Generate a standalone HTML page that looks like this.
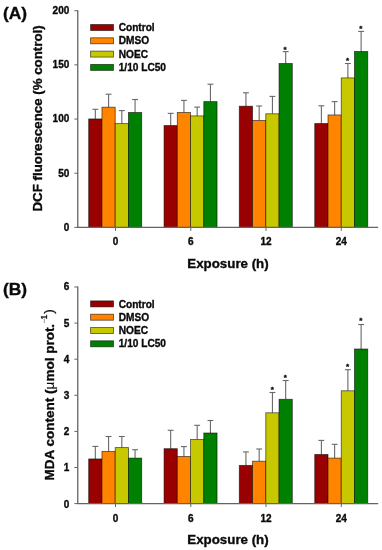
<!DOCTYPE html>
<html><head><meta charset="utf-8"><title>Figure</title>
<style>
html,body{margin:0;padding:0;background:#fff;}
svg{display:block;font-family:"Liberation Sans",Arial,sans-serif;font-weight:bold;fill:#0a0a0a;}
text{stroke:#0a0a0a;stroke-width:0.35px;stroke-linejoin:round;}
</style></head><body>
<svg width="382" height="550" viewBox="0 0 382 550">
<rect width="382" height="550" fill="#fff"/>
<line x1="95.33" y1="118.95" x2="95.33" y2="109.30" stroke="#686868" stroke-width="1.1"/>
<line x1="92.38" y1="109.30" x2="98.28" y2="109.30" stroke="#686868" stroke-width="1.1"/>
<rect x="88.70" y="118.95" width="13.25" height="108.45" fill="#990000" stroke="#000" stroke-opacity="0.62" stroke-width="0.85"/>
<line x1="108.58" y1="107.20" x2="108.58" y2="94.20" stroke="#686868" stroke-width="1.1"/>
<line x1="105.62" y1="94.20" x2="111.53" y2="94.20" stroke="#686868" stroke-width="1.1"/>
<rect x="101.95" y="107.20" width="13.25" height="120.20" fill="#FF8400" stroke="#000" stroke-opacity="0.62" stroke-width="0.85"/>
<line x1="121.83" y1="123.60" x2="121.83" y2="110.60" stroke="#686868" stroke-width="1.1"/>
<line x1="118.88" y1="110.60" x2="124.78" y2="110.60" stroke="#686868" stroke-width="1.1"/>
<rect x="115.20" y="123.60" width="13.25" height="103.80" fill="#C8C800" stroke="#000" stroke-opacity="0.62" stroke-width="0.85"/>
<line x1="135.07" y1="112.50" x2="135.07" y2="99.50" stroke="#686868" stroke-width="1.1"/>
<line x1="132.12" y1="99.50" x2="138.02" y2="99.50" stroke="#686868" stroke-width="1.1"/>
<rect x="128.45" y="112.50" width="13.25" height="114.90" fill="#008000" stroke="#000" stroke-opacity="0.62" stroke-width="0.85"/>
<line x1="170.68" y1="125.50" x2="170.68" y2="113.35" stroke="#686868" stroke-width="1.1"/>
<line x1="167.73" y1="113.35" x2="173.62" y2="113.35" stroke="#686868" stroke-width="1.1"/>
<rect x="164.05" y="125.50" width="13.25" height="101.90" fill="#990000" stroke="#000" stroke-opacity="0.62" stroke-width="0.85"/>
<line x1="183.93" y1="112.50" x2="183.93" y2="100.40" stroke="#686868" stroke-width="1.1"/>
<line x1="180.98" y1="100.40" x2="186.88" y2="100.40" stroke="#686868" stroke-width="1.1"/>
<rect x="177.30" y="112.50" width="13.25" height="114.90" fill="#FF8400" stroke="#000" stroke-opacity="0.62" stroke-width="0.85"/>
<line x1="197.18" y1="115.90" x2="197.18" y2="107.10" stroke="#686868" stroke-width="1.1"/>
<line x1="194.23" y1="107.10" x2="200.12" y2="107.10" stroke="#686868" stroke-width="1.1"/>
<rect x="190.55" y="115.90" width="13.25" height="111.50" fill="#C8C800" stroke="#000" stroke-opacity="0.62" stroke-width="0.85"/>
<line x1="210.43" y1="101.60" x2="210.43" y2="84.20" stroke="#686868" stroke-width="1.1"/>
<line x1="207.48" y1="84.20" x2="213.38" y2="84.20" stroke="#686868" stroke-width="1.1"/>
<rect x="203.80" y="101.60" width="13.25" height="125.80" fill="#008000" stroke="#000" stroke-opacity="0.62" stroke-width="0.85"/>
<line x1="245.93" y1="106.20" x2="245.93" y2="92.80" stroke="#686868" stroke-width="1.1"/>
<line x1="242.98" y1="92.80" x2="248.88" y2="92.80" stroke="#686868" stroke-width="1.1"/>
<rect x="239.30" y="106.20" width="13.25" height="121.20" fill="#990000" stroke="#000" stroke-opacity="0.62" stroke-width="0.85"/>
<line x1="259.18" y1="120.50" x2="259.18" y2="106.00" stroke="#686868" stroke-width="1.1"/>
<line x1="256.23" y1="106.00" x2="262.12" y2="106.00" stroke="#686868" stroke-width="1.1"/>
<rect x="252.55" y="120.50" width="13.25" height="106.90" fill="#FF8400" stroke="#000" stroke-opacity="0.62" stroke-width="0.85"/>
<line x1="272.43" y1="113.80" x2="272.43" y2="96.40" stroke="#686868" stroke-width="1.1"/>
<line x1="269.48" y1="96.40" x2="275.38" y2="96.40" stroke="#686868" stroke-width="1.1"/>
<rect x="265.80" y="113.80" width="13.25" height="113.60" fill="#C8C800" stroke="#000" stroke-opacity="0.62" stroke-width="0.85"/>
<line x1="285.68" y1="63.50" x2="285.68" y2="51.60" stroke="#686868" stroke-width="1.1"/>
<line x1="282.73" y1="51.60" x2="288.62" y2="51.60" stroke="#686868" stroke-width="1.1"/>
<rect x="279.05" y="63.50" width="13.25" height="163.90" fill="#008000" stroke="#000" stroke-opacity="0.62" stroke-width="0.85"/>
<line x1="321.38" y1="123.50" x2="321.38" y2="105.80" stroke="#686868" stroke-width="1.1"/>
<line x1="318.43" y1="105.80" x2="324.32" y2="105.80" stroke="#686868" stroke-width="1.1"/>
<rect x="314.75" y="123.50" width="13.25" height="103.90" fill="#990000" stroke="#000" stroke-opacity="0.62" stroke-width="0.85"/>
<line x1="334.62" y1="114.95" x2="334.62" y2="101.60" stroke="#686868" stroke-width="1.1"/>
<line x1="331.68" y1="101.60" x2="337.57" y2="101.60" stroke="#686868" stroke-width="1.1"/>
<rect x="328.00" y="114.95" width="13.25" height="112.45" fill="#FF8400" stroke="#000" stroke-opacity="0.62" stroke-width="0.85"/>
<line x1="347.88" y1="77.90" x2="347.88" y2="63.50" stroke="#686868" stroke-width="1.1"/>
<line x1="344.93" y1="63.50" x2="350.82" y2="63.50" stroke="#686868" stroke-width="1.1"/>
<rect x="341.25" y="77.90" width="13.25" height="149.50" fill="#C8C800" stroke="#000" stroke-opacity="0.62" stroke-width="0.85"/>
<line x1="361.12" y1="51.50" x2="361.12" y2="31.40" stroke="#686868" stroke-width="1.1"/>
<line x1="358.18" y1="31.40" x2="364.07" y2="31.40" stroke="#686868" stroke-width="1.1"/>
<rect x="354.50" y="51.50" width="13.25" height="175.90" fill="#008000" stroke="#000" stroke-opacity="0.62" stroke-width="0.85"/>
<line x1="77.75" y1="10.32" x2="77.75" y2="227.80" stroke="#646464" stroke-width="1.3"/>
<line x1="77.35" y1="227.40" x2="378.2" y2="227.40" stroke="#646464" stroke-width="1.2"/>
<line x1="74.35" y1="227.40" x2="77.75" y2="227.40" stroke="#646464" stroke-width="1"/>
<text x="69.3" y="230.65" text-anchor="end" font-size="10">0</text>
<line x1="74.35" y1="173.23" x2="77.75" y2="173.23" stroke="#646464" stroke-width="1"/>
<text x="69.3" y="176.56" text-anchor="end" font-size="10">50</text>
<line x1="74.35" y1="119.06" x2="77.75" y2="119.06" stroke="#646464" stroke-width="1"/>
<text x="69.3" y="122.47" text-anchor="end" font-size="10">100</text>
<line x1="74.35" y1="64.89" x2="77.75" y2="64.89" stroke="#646464" stroke-width="1"/>
<text x="69.3" y="68.38" text-anchor="end" font-size="10">150</text>
<line x1="74.35" y1="10.72" x2="77.75" y2="10.72" stroke="#646464" stroke-width="1"/>
<text x="69.3" y="14.29" text-anchor="end" font-size="10">200</text>
<line x1="115.5" y1="227.40" x2="115.5" y2="230.80" stroke="#646464" stroke-width="1"/>
<text x="115.5" y="244.90" text-anchor="middle" font-size="10">0</text>
<line x1="190.8" y1="227.40" x2="190.8" y2="230.80" stroke="#646464" stroke-width="1"/>
<text x="190.8" y="244.90" text-anchor="middle" font-size="10">6</text>
<line x1="266.0" y1="227.40" x2="266.0" y2="230.80" stroke="#646464" stroke-width="1"/>
<text x="266.0" y="244.90" text-anchor="middle" font-size="10">12</text>
<line x1="341.3" y1="227.40" x2="341.3" y2="230.80" stroke="#646464" stroke-width="1"/>
<text x="341.3" y="244.90" text-anchor="middle" font-size="10">24</text>
<text x="228" y="267.70" text-anchor="middle" font-size="13.3">Exposure (h)</text>
<rect x="90.6" y="24.50" width="22.9" height="6" fill="#990000" stroke="#000" stroke-opacity="0.62" stroke-width="0.85"/>
<text x="118.7" y="31.10" font-size="10.15">Control</text>
<rect x="90.6" y="37.80" width="22.9" height="6" fill="#FF8400" stroke="#000" stroke-opacity="0.62" stroke-width="0.85"/>
<text x="118.7" y="44.40" font-size="10.15">DMSO</text>
<rect x="90.6" y="51.10" width="22.9" height="6" fill="#C8C800" stroke="#000" stroke-opacity="0.62" stroke-width="0.85"/>
<text x="118.7" y="57.70" font-size="10.15">NOEC</text>
<rect x="90.6" y="64.40" width="22.9" height="6" fill="#008000" stroke="#000" stroke-opacity="0.62" stroke-width="0.85"/>
<text x="118.7" y="71.00" font-size="10.15">1/10 LC50</text>
<text x="2.9" y="18.60" font-size="17.4">(A)</text>
<text transform="translate(42.2,211.5) rotate(-90)" font-size="13.3">DCF fluorescence (% control)</text>
<text x="285.1" y="51.90" text-anchor="middle" font-size="8" stroke-width="0.15">*</text>
<text x="347.5" y="63.20" text-anchor="middle" font-size="8" stroke-width="0.15">*</text>
<text x="360.90000000000003" y="30.50" text-anchor="middle" font-size="8" stroke-width="0.15">*</text>
<line x1="95.33" y1="458.95" x2="95.33" y2="446.40" stroke="#686868" stroke-width="1.1"/>
<line x1="92.38" y1="446.40" x2="98.28" y2="446.40" stroke="#686868" stroke-width="1.1"/>
<rect x="88.70" y="458.95" width="13.25" height="44.65" fill="#990000" stroke="#000" stroke-opacity="0.62" stroke-width="0.85"/>
<line x1="108.58" y1="451.40" x2="108.58" y2="436.50" stroke="#686868" stroke-width="1.1"/>
<line x1="105.62" y1="436.50" x2="111.53" y2="436.50" stroke="#686868" stroke-width="1.1"/>
<rect x="101.95" y="451.40" width="13.25" height="52.20" fill="#FF8400" stroke="#000" stroke-opacity="0.62" stroke-width="0.85"/>
<line x1="121.83" y1="447.60" x2="121.83" y2="436.50" stroke="#686868" stroke-width="1.1"/>
<line x1="118.88" y1="436.50" x2="124.78" y2="436.50" stroke="#686868" stroke-width="1.1"/>
<rect x="115.20" y="447.60" width="13.25" height="56.00" fill="#C8C800" stroke="#000" stroke-opacity="0.62" stroke-width="0.85"/>
<line x1="135.07" y1="458.10" x2="135.07" y2="449.70" stroke="#686868" stroke-width="1.1"/>
<line x1="132.12" y1="449.70" x2="138.02" y2="449.70" stroke="#686868" stroke-width="1.1"/>
<rect x="128.45" y="458.10" width="13.25" height="45.50" fill="#008000" stroke="#000" stroke-opacity="0.62" stroke-width="0.85"/>
<line x1="170.68" y1="448.70" x2="170.68" y2="430.30" stroke="#686868" stroke-width="1.1"/>
<line x1="167.73" y1="430.30" x2="173.62" y2="430.30" stroke="#686868" stroke-width="1.1"/>
<rect x="164.05" y="448.70" width="13.25" height="54.90" fill="#990000" stroke="#000" stroke-opacity="0.62" stroke-width="0.85"/>
<line x1="183.93" y1="456.50" x2="183.93" y2="446.60" stroke="#686868" stroke-width="1.1"/>
<line x1="180.98" y1="446.60" x2="186.88" y2="446.60" stroke="#686868" stroke-width="1.1"/>
<rect x="177.30" y="456.50" width="13.25" height="47.10" fill="#FF8400" stroke="#000" stroke-opacity="0.62" stroke-width="0.85"/>
<line x1="197.18" y1="439.50" x2="197.18" y2="425.30" stroke="#686868" stroke-width="1.1"/>
<line x1="194.23" y1="425.30" x2="200.12" y2="425.30" stroke="#686868" stroke-width="1.1"/>
<rect x="190.55" y="439.50" width="13.25" height="64.10" fill="#C8C800" stroke="#000" stroke-opacity="0.62" stroke-width="0.85"/>
<line x1="210.43" y1="433.00" x2="210.43" y2="420.50" stroke="#686868" stroke-width="1.1"/>
<line x1="207.48" y1="420.50" x2="213.38" y2="420.50" stroke="#686868" stroke-width="1.1"/>
<rect x="203.80" y="433.00" width="13.25" height="70.60" fill="#008000" stroke="#000" stroke-opacity="0.62" stroke-width="0.85"/>
<line x1="245.93" y1="465.40" x2="245.93" y2="451.90" stroke="#686868" stroke-width="1.1"/>
<line x1="242.98" y1="451.90" x2="248.88" y2="451.90" stroke="#686868" stroke-width="1.1"/>
<rect x="239.30" y="465.40" width="13.25" height="38.20" fill="#990000" stroke="#000" stroke-opacity="0.62" stroke-width="0.85"/>
<line x1="259.18" y1="461.20" x2="259.18" y2="449.00" stroke="#686868" stroke-width="1.1"/>
<line x1="256.23" y1="449.00" x2="262.12" y2="449.00" stroke="#686868" stroke-width="1.1"/>
<rect x="252.55" y="461.20" width="13.25" height="42.40" fill="#FF8400" stroke="#000" stroke-opacity="0.62" stroke-width="0.85"/>
<line x1="272.43" y1="412.80" x2="272.43" y2="392.50" stroke="#686868" stroke-width="1.1"/>
<line x1="269.48" y1="392.50" x2="275.38" y2="392.50" stroke="#686868" stroke-width="1.1"/>
<rect x="265.80" y="412.80" width="13.25" height="90.80" fill="#C8C800" stroke="#000" stroke-opacity="0.62" stroke-width="0.85"/>
<line x1="285.68" y1="399.30" x2="285.68" y2="380.50" stroke="#686868" stroke-width="1.1"/>
<line x1="282.73" y1="380.50" x2="288.62" y2="380.50" stroke="#686868" stroke-width="1.1"/>
<rect x="279.05" y="399.30" width="13.25" height="104.30" fill="#008000" stroke="#000" stroke-opacity="0.62" stroke-width="0.85"/>
<line x1="321.38" y1="454.50" x2="321.38" y2="440.40" stroke="#686868" stroke-width="1.1"/>
<line x1="318.43" y1="440.40" x2="324.32" y2="440.40" stroke="#686868" stroke-width="1.1"/>
<rect x="314.75" y="454.50" width="13.25" height="49.10" fill="#990000" stroke="#000" stroke-opacity="0.62" stroke-width="0.85"/>
<line x1="334.62" y1="458.10" x2="334.62" y2="444.30" stroke="#686868" stroke-width="1.1"/>
<line x1="331.68" y1="444.30" x2="337.57" y2="444.30" stroke="#686868" stroke-width="1.1"/>
<rect x="328.00" y="458.10" width="13.25" height="45.50" fill="#FF8400" stroke="#000" stroke-opacity="0.62" stroke-width="0.85"/>
<line x1="347.88" y1="390.80" x2="347.88" y2="369.70" stroke="#686868" stroke-width="1.1"/>
<line x1="344.93" y1="369.70" x2="350.82" y2="369.70" stroke="#686868" stroke-width="1.1"/>
<rect x="341.25" y="390.80" width="13.25" height="112.80" fill="#C8C800" stroke="#000" stroke-opacity="0.62" stroke-width="0.85"/>
<line x1="361.12" y1="349.00" x2="361.12" y2="324.50" stroke="#686868" stroke-width="1.1"/>
<line x1="358.18" y1="324.50" x2="364.07" y2="324.50" stroke="#686868" stroke-width="1.1"/>
<rect x="354.50" y="349.00" width="13.25" height="154.60" fill="#008000" stroke="#000" stroke-opacity="0.62" stroke-width="0.85"/>
<line x1="77.75" y1="286.60" x2="77.75" y2="504.00" stroke="#646464" stroke-width="1.3"/>
<line x1="77.35" y1="503.60" x2="378.2" y2="503.60" stroke="#646464" stroke-width="1.2"/>
<line x1="74.35" y1="503.60" x2="77.75" y2="503.60" stroke="#646464" stroke-width="1"/>
<text x="69.3" y="507.55" text-anchor="end" font-size="10">0</text>
<line x1="74.35" y1="467.50" x2="77.75" y2="467.50" stroke="#646464" stroke-width="1"/>
<text x="69.3" y="471.35" text-anchor="end" font-size="10">1</text>
<line x1="74.35" y1="431.40" x2="77.75" y2="431.40" stroke="#646464" stroke-width="1"/>
<text x="69.3" y="435.15" text-anchor="end" font-size="10">2</text>
<line x1="74.35" y1="395.30" x2="77.75" y2="395.30" stroke="#646464" stroke-width="1"/>
<text x="69.3" y="398.95" text-anchor="end" font-size="10">3</text>
<line x1="74.35" y1="359.20" x2="77.75" y2="359.20" stroke="#646464" stroke-width="1"/>
<text x="69.3" y="362.75" text-anchor="end" font-size="10">4</text>
<line x1="74.35" y1="323.10" x2="77.75" y2="323.10" stroke="#646464" stroke-width="1"/>
<text x="69.3" y="326.55" text-anchor="end" font-size="10">5</text>
<line x1="74.35" y1="287.00" x2="77.75" y2="287.00" stroke="#646464" stroke-width="1"/>
<text x="69.3" y="290.35" text-anchor="end" font-size="10">6</text>
<line x1="115.5" y1="503.60" x2="115.5" y2="507.00" stroke="#646464" stroke-width="1"/>
<text x="115.5" y="521.60" text-anchor="middle" font-size="10">0</text>
<line x1="190.8" y1="503.60" x2="190.8" y2="507.00" stroke="#646464" stroke-width="1"/>
<text x="190.8" y="521.60" text-anchor="middle" font-size="10">6</text>
<line x1="266.0" y1="503.60" x2="266.0" y2="507.00" stroke="#646464" stroke-width="1"/>
<text x="266.0" y="521.60" text-anchor="middle" font-size="10">12</text>
<line x1="341.3" y1="503.60" x2="341.3" y2="507.00" stroke="#646464" stroke-width="1"/>
<text x="341.3" y="521.60" text-anchor="middle" font-size="10">24</text>
<text x="228" y="544.40" text-anchor="middle" font-size="13.3">Exposure (h)</text>
<rect x="90.6" y="300.90" width="22.9" height="6" fill="#990000" stroke="#000" stroke-opacity="0.62" stroke-width="0.85"/>
<text x="118.7" y="307.50" font-size="10.15">Control</text>
<rect x="90.6" y="314.20" width="22.9" height="6" fill="#FF8400" stroke="#000" stroke-opacity="0.62" stroke-width="0.85"/>
<text x="118.7" y="320.80" font-size="10.15">DMSO</text>
<rect x="90.6" y="327.50" width="22.9" height="6" fill="#C8C800" stroke="#000" stroke-opacity="0.62" stroke-width="0.85"/>
<text x="118.7" y="334.10" font-size="10.15">NOEC</text>
<rect x="90.6" y="340.80" width="22.9" height="6" fill="#008000" stroke="#000" stroke-opacity="0.62" stroke-width="0.85"/>
<text x="118.7" y="347.40" font-size="10.15">1/10 LC50</text>
<text x="2.9" y="295.00" font-size="17.4">(B)</text>
<text transform="translate(53.5,480.4) rotate(-90)" font-size="13.5">MDA content (<tspan font-weight="normal" stroke-width="0.2">μ</tspan>mol prot.<tspan font-size="9" dy="-6.6" dx="0.3" font-weight="normal" stroke-width="0" fill="#667">−</tspan><tspan font-size="9" dx="-1.3" font-weight="normal" stroke-width="0.3">1</tspan><tspan dy="6.2" dx="0.8" font-weight="normal" stroke-width="0.3">)</tspan></text>
<text x="272.20000000000005" y="392.00" text-anchor="middle" font-size="8" stroke-width="0.15">*</text>
<text x="285.40000000000003" y="379.60" text-anchor="middle" font-size="8" stroke-width="0.15">*</text>
<text x="347.5" y="368.50" text-anchor="middle" font-size="8" stroke-width="0.15">*</text>
<text x="360.90000000000003" y="323.40" text-anchor="middle" font-size="8" stroke-width="0.15">*</text>
</svg>
</body></html>
